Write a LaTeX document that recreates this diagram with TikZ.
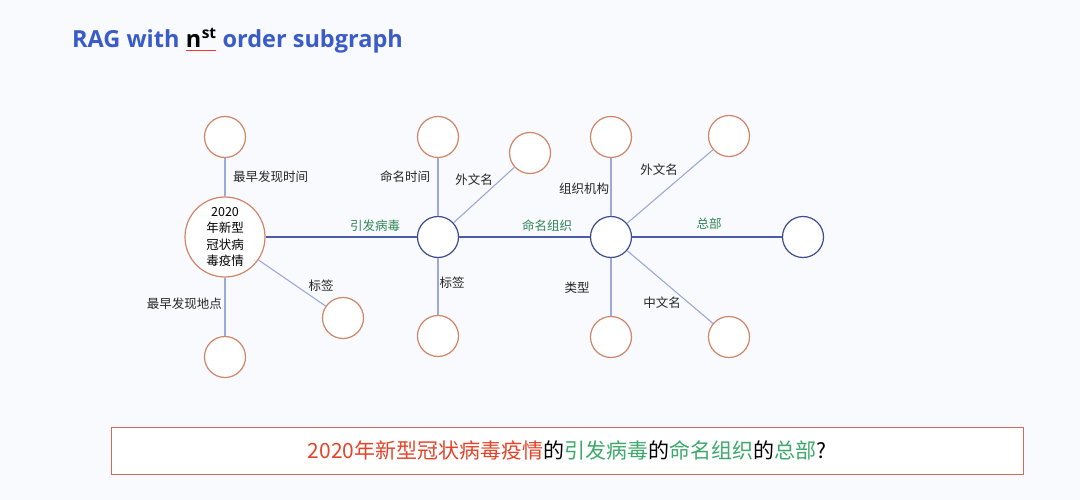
\documentclass[tikz,border=0pt]{standalone}
\usepackage{fontspec}
\setmainfont{Noto Sans CJK SC}
\newfontfamily\titlefont{Open Sans}
\usetikzlibrary{positioning,calc}
\definecolor{pagetint}{HTML}{F9FAFD}
\definecolor{titleblue}{HTML}{3A5CC8}
\definecolor{leafring}{HTML}{D08468}
\definecolor{hubring}{HTML}{3E4B8E}
\definecolor{spoke}{HTML}{9DA9D8}
\definecolor{trunk}{HTML}{4C5BA6}
\definecolor{relgreen}{HTML}{318556}
\definecolor{askred}{HTML}{E3452B}
\definecolor{askgreen}{HTML}{3DA96A}
\definecolor{boxred}{HTML}{D66A58}
\tikzset{
	kg graph/.style={
		x=1pt,y=-1pt,
		font=\fontsize{12.5}{15}\selectfont
	},
	title part/.style={
		inner sep=0pt,
		text=titleblue,
		font=\titlefont\bfseries\fontsize{23.5}{28}\selectfont
	},
	leaf/.style={
		circle,
		draw=leafring,
		fill=white,
		line width=1.2pt,
		minimum size=41pt,
		inner sep=0pt
	},
	hub/.style={
		leaf,
		draw=hubring
	},
	topic/.style={
		leaf,
		minimum size=80pt,
		align=center,
		font=\fontsize{12.5}{16.3}\selectfont
	},
	spoke edge/.style={draw=spoke, line width=1.1pt},
	trunk edge/.style={draw=trunk, line width=1.5pt},
	attr/.style={inner sep=1pt, text=black!85},
	relation/.style={attr, text=relgreen},
	ask box/.style={
		draw=boxred,
		line width=1pt,
		fill=white,
		minimum width=912pt,
		minimum height=47pt,
		font=\fontsize{21}{25}\selectfont
	}
}
\begin{document}
\begin{tikzpicture}[kg graph]
	\useasboundingbox[fill=pagetint] (0,0) rectangle (1080,500);
	% title
	\node[title part, anchor=base west] (titlehead) at (72,48) {RAG with};
	\node[title part, text=black, anchor=base west] (titlen) at ([xshift=6pt]titlehead.base east) {n};
	\node[title part, text=black, anchor=base west, font=\titlefont\bfseries\fontsize{15.5}{18}\selectfont] (titlesup) at ([yshift=9pt]titlen.base east) {st};
	\node[title part, anchor=base west] (titletail) at ([xshift=6pt]titlen.base east -| titlesup.east) {order subgraph};
	\draw[red!80, line width=0.6pt] ([yshift=-2.5pt]titlen.base west) -- ([yshift=-2.5pt]titlesup.base east |- titlen.base);
	% entities
	\node[topic] (covid) at (225,237) {2020\\年新型\\冠状病\\毒疫情};
	\node[leaf] (firsttime) at (225,137) {};
	\node[leaf] (firstplace) at (225,357) {};
	\node[leaf] (covidtag) at (343,318) {};
	\node[hub] (virus) at (438,237) {};
	\node[leaf] (nametime) at (438,137) {};
	\node[leaf] (virusforeign) at (530,153) {};
	\node[leaf] (virustag) at (438,336) {};
	\node[hub] (org) at (611,237) {};
	\node[leaf] (orgkind) at (611,137) {};
	\node[leaf] (orgforeign) at (729,136) {};
	\node[hub] (hq) at (803,237) {};
	\node[leaf] (orgtype) at (611,337) {};
	\node[leaf] (orgchinese) at (729,337) {};
	% relations along the path
	\draw[trunk edge] (covid) -- (virus);
	\draw[trunk edge] (virus) -- (org);
	\draw[trunk edge] (org) -- (hq);
	% attributes
	\draw[spoke edge] (covid) -- (firsttime);
	\draw[spoke edge] (covid) -- (firstplace);
	\draw[spoke edge] (covid) -- (covidtag);
	\draw[spoke edge] (virus) -- (nametime);
	\draw[spoke edge] (virus) -- (virusforeign);
	\draw[spoke edge] (virus) -- (virustag);
	\draw[spoke edge] (org) -- (orgkind);
	\draw[spoke edge] (org) -- (orgforeign);
	\draw[spoke edge] (org) -- (orgtype);
	\draw[spoke edge] (org) -- (orgchinese);
	% labels
	\node[attr, anchor=west] (lfirsttime) at (232,177) {最早发现时间};
	\node[attr, anchor=east] (lfirstplace) at (223,304) {最早发现地点};
	\node[attr] (lcovidtag) at (321,286) {标签};
	\node[relation] (lvirus) at (375,226) {引发病毒};
	\node[attr] (lnametime) at (405,177) {命名时间};
	\node[attr] (lvirusforeign) at (474,180) {外文名};
	\node[attr] (lvirustag) at (452,283) {标签};
	\node[relation] (lorg) at (547,226) {命名组织};
	\node[attr] (lorgkind) at (584,189) {组织机构};
	\node[attr] (lorgforeign) at (659,170) {外文名};
	\node[relation] (lhq) at (709,224) {总部};
	\node[attr] (lorgtype) at (577,288) {类型};
	\node[attr] (lorgchinese) at (662,303) {中文名};
	% question
	\node[ask box] (question) at (567,450.5) {\textcolor{askred}{2020年新型冠状病毒疫情}的\textcolor{askgreen}{引发病毒}的\textcolor{askgreen}{命名组织}的\textcolor{askgreen}{总部}?\hspace{10pt}};
\end{tikzpicture}
\end{document}
